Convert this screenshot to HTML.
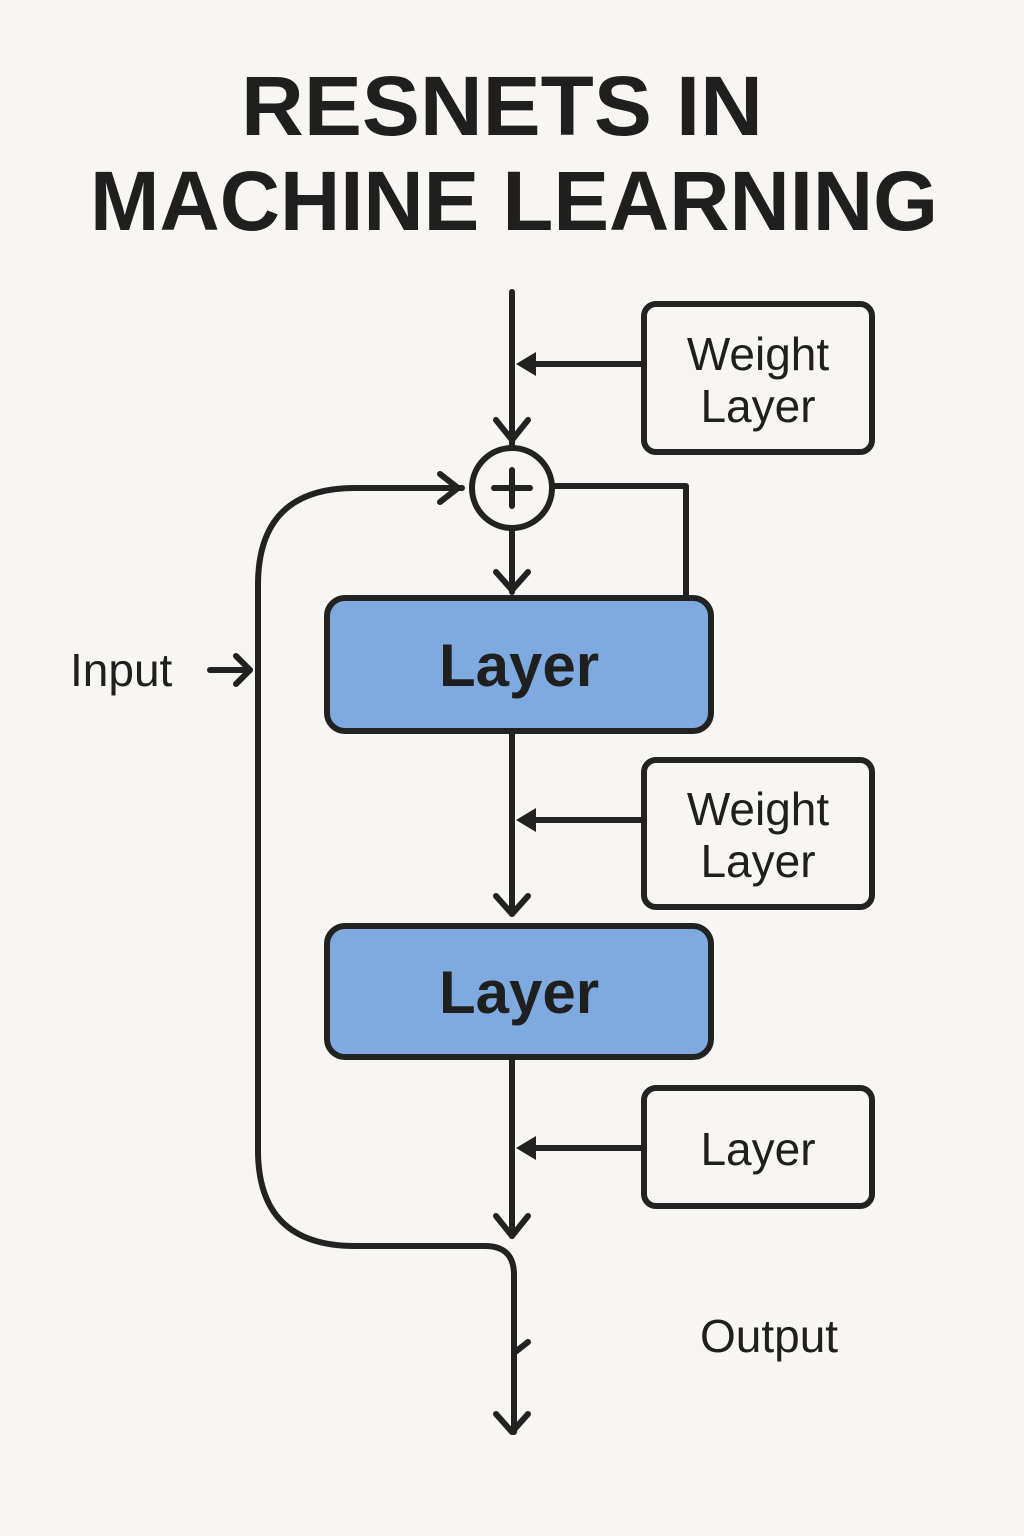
<!DOCTYPE html>
<html><head><meta charset="utf-8"><style>
html,body{margin:0;padding:0;background:#f8f6f2;}
svg{display:block;}
text{font-family:"Liberation Sans",sans-serif;fill:#1f1f1f;}
</style></head><body>
<svg width="1024" height="1536" viewBox="0 0 1024 1536" xmlns="http://www.w3.org/2000/svg">
<rect width="1024" height="1536" fill="#f8f6f2"/>
<text x="502" y="135" font-size="84" font-weight="bold" text-anchor="middle" textLength="522" lengthAdjust="spacingAndGlyphs">RESNETS IN</text>
<text x="514" y="230" font-size="84" font-weight="bold" text-anchor="middle" textLength="848" lengthAdjust="spacingAndGlyphs">MACHINE LEARNING</text>
<g stroke="#222" stroke-width="6" fill="none" stroke-linecap="round" stroke-linejoin="round">
<!-- top vertical -->
<line x1="512" y1="292" x2="512" y2="444"/>
<polyline points="496,420 512,440 528,420"/>
<!-- weight box 1 -->
<rect x="644" y="304" width="228" height="148" rx="12"/>
<line x1="644" y1="364" x2="530" y2="364"/>
<!-- circle -->
<circle cx="512" cy="488" r="40"/>
<line x1="512" y1="470" x2="512" y2="506"/>
<line x1="494" y1="488" x2="530" y2="488"/>
<polyline points="552,486 686,486 686,598"/>
<line x1="512" y1="528" x2="512" y2="592"/>
<polyline points="496,572 512,590 528,572"/>
<!-- layer 1 -->
<rect x="327" y="598" width="384" height="133" rx="18" fill="#7faadf"/>
<line x1="512" y1="731" x2="512" y2="914"/>
<polyline points="496,896 512,914 528,896"/>
<rect x="644" y="760" width="228" height="147" rx="12"/>
<line x1="644" y1="820" x2="530" y2="820"/>
<!-- layer 2 -->
<rect x="327" y="926" width="384" height="131" rx="18" fill="#7faadf"/>
<line x1="512" y1="1057" x2="512" y2="1236"/>
<polyline points="496,1216 512,1236 528,1216"/>
<rect x="644" y="1088" width="228" height="118" rx="12"/>
<line x1="644" y1="1148" x2="530" y2="1148"/>
<!-- skip loop -->
<path d="M462,488 L355,488 Q258,488 258,585 L258,1150 Q258,1246 355,1246 L485,1246 Q514,1246 514,1275 L514,1432"/>
<polyline points="440,474 458,488 440,502"/>
<polyline points="496,1414 512,1432 528,1414"/>
<line x1="514" y1="1353" x2="528" y2="1342"/>
<!-- input arrow -->
<line x1="210" y1="670" x2="250" y2="670"/>
<polyline points="236,656 250,670 236,684"/>
</g>
<g fill="#222">
<polygon points="516,364 536,352 536,376"/>
<polygon points="516,820 536,808 536,832"/>
<polygon points="516,1148 536,1136 536,1160"/>
</g>
<text x="519" y="686" font-size="60" font-weight="bold" text-anchor="middle">Layer</text>
<text x="519" y="1013" font-size="60" font-weight="bold" text-anchor="middle">Layer</text>
<text x="758" y="370" font-size="46" text-anchor="middle">Weight</text>
<text x="758" y="422" font-size="46" text-anchor="middle">Layer</text>
<text x="758" y="825" font-size="46" text-anchor="middle">Weight</text>
<text x="758" y="877" font-size="46" text-anchor="middle">Layer</text>
<text x="758" y="1165" font-size="46" text-anchor="middle">Layer</text>
<text x="70" y="686" font-size="46">Input</text>
<text x="700" y="1352" font-size="46">Output</text>
</svg>
</body></html>
